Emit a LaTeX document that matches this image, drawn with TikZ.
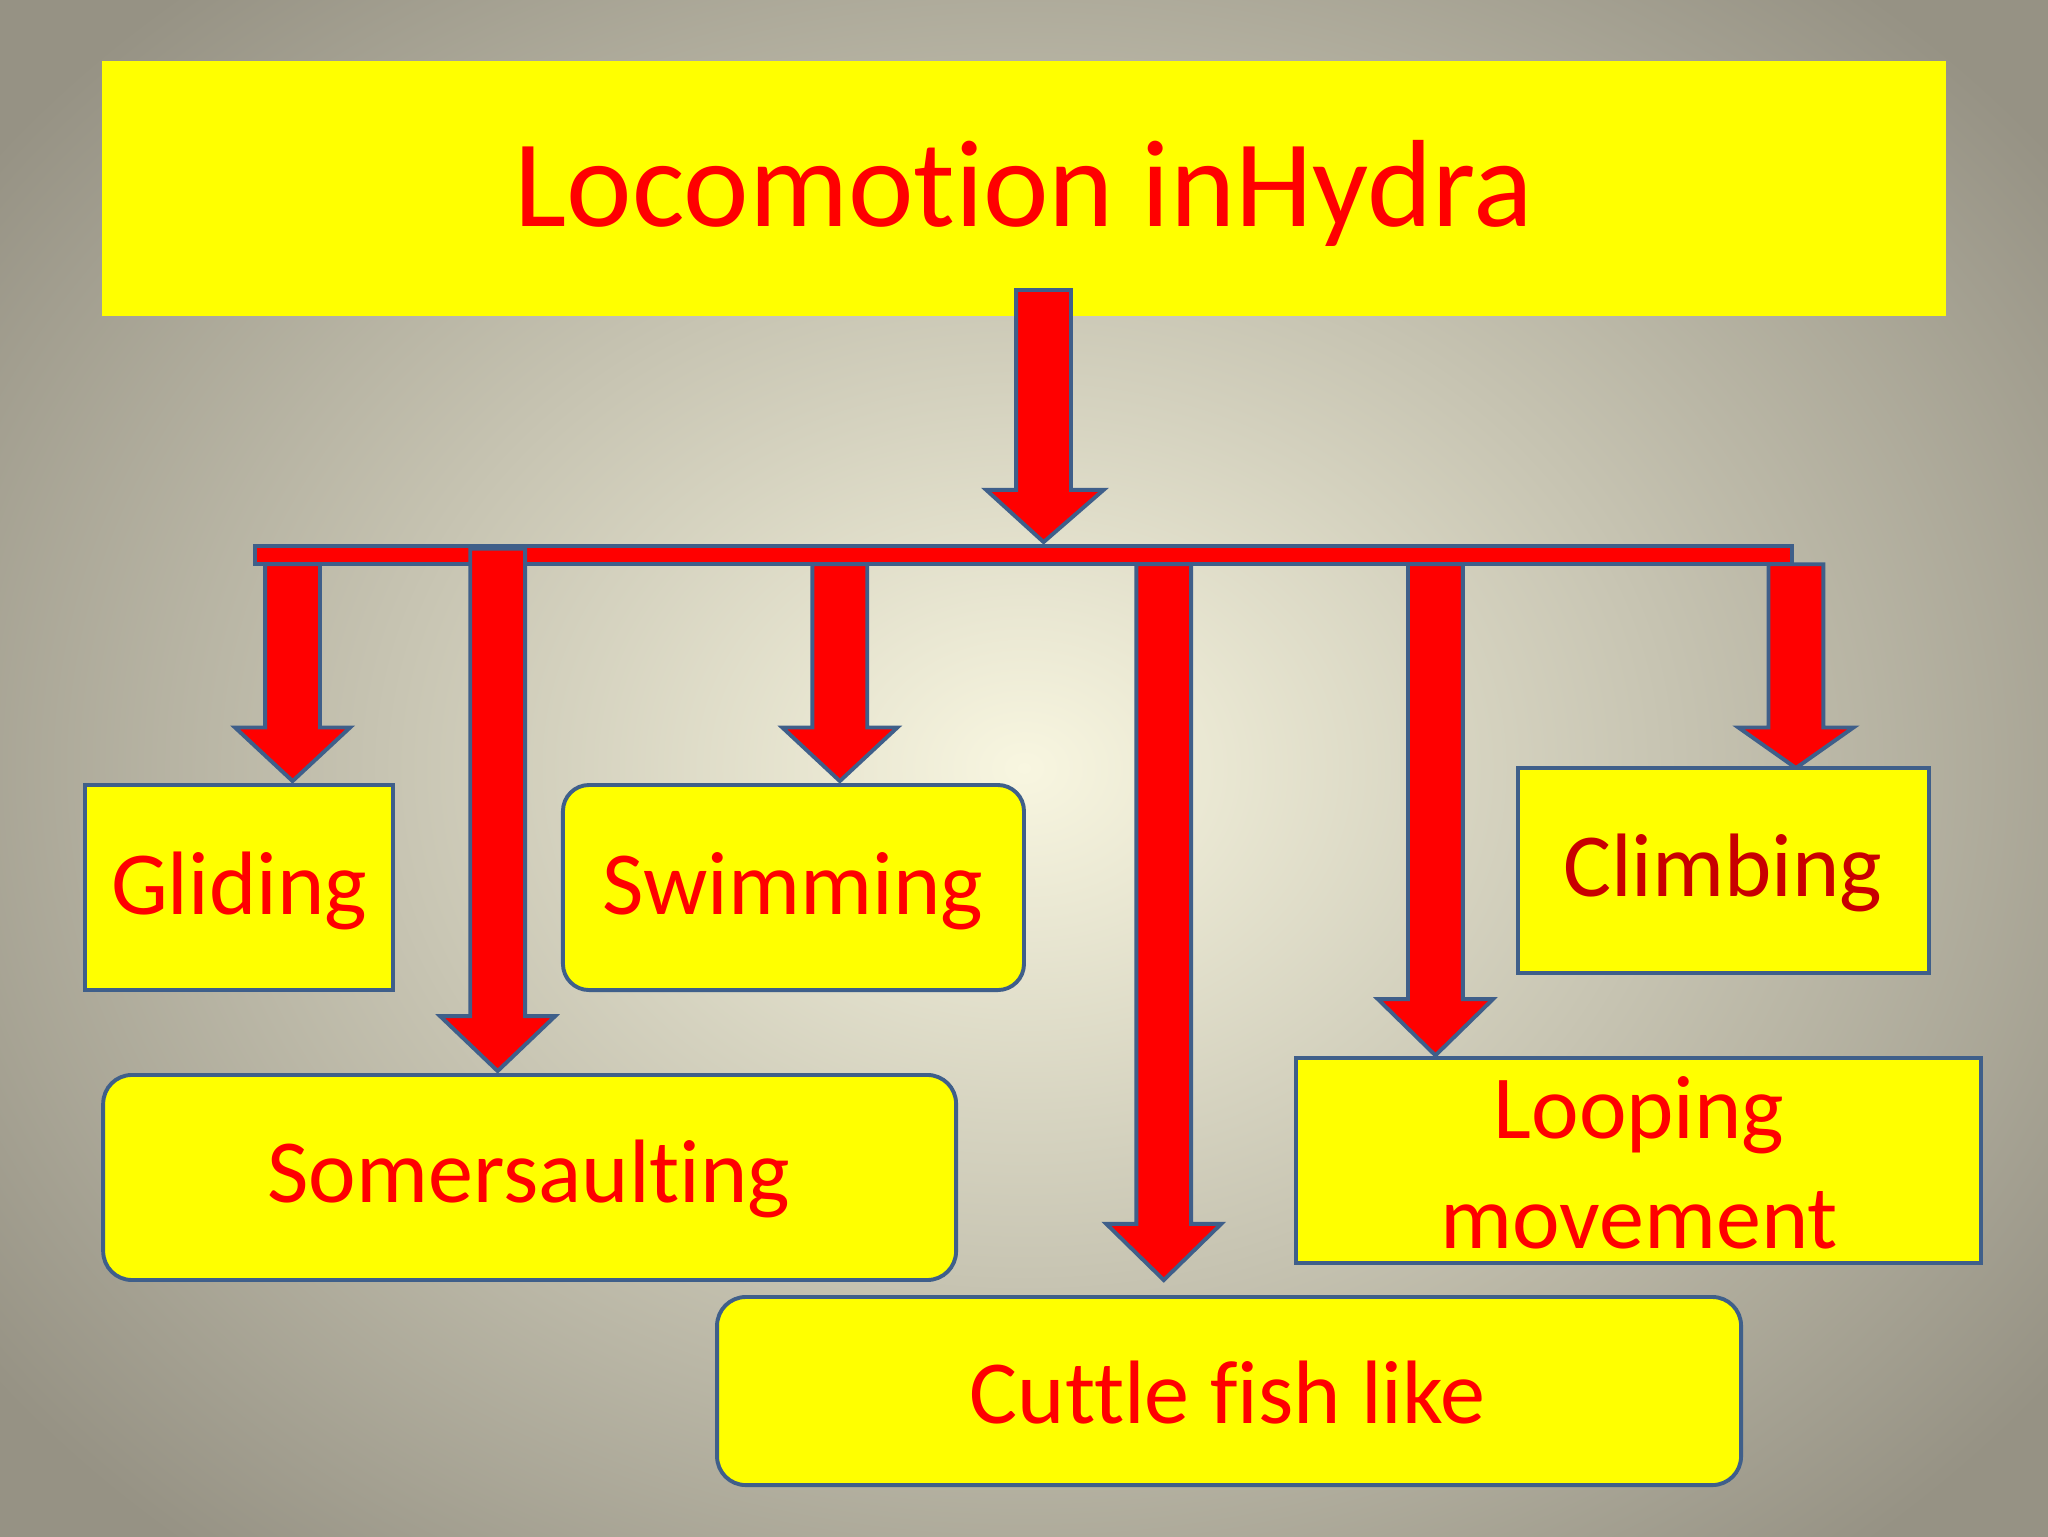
\documentclass[tikz,border=0pt]{standalone}
\usepackage{fontspec}
\setmainfont{Carlito}[RawFeature=-liga]
\definecolor{edge}{HTML}{3F5F8A}
\definecolor{bgin}{RGB}{248,246,224}
\definecolor{bgout}{RGB}{150,146,132}
\definecolor{txt}{HTML}{FF0000}
\definecolor{yel}{HTML}{FFFF00}
\begin{document}
\begin{tikzpicture}[x=1pt,y=-1pt,
  box/.style={draw=edge,line width=3pt,fill=yel},
  arr/.style={draw=edge,line width=3pt,fill=red,line join=miter},
  lab/.style={text=txt,font=\fontsize{69}{72}\selectfont,align=center}]
\useasboundingbox (0,0) rectangle (1568,1176);
\begin{scope}
\clip (0,0) rectangle (1568,1176);
\shade[inner color=bgin,outer color=bgout] (-200,-200) rectangle (1768,1376);
\end{scope}
\fill[yel] (78,47) rectangle (1490,242);
\node[text=txt,font=\fontsize{95}{98}\selectfont] (title) at (784,148) {Locomotion inHydra};
% main arrow
\draw[arr] (778,222) -- (820,222) -- (820,375) -- (845,375) -- (799,415) -- (755,375) -- (778,375) -- cycle;
% bar
\draw[arr] (195,418) rectangle (1372,432);
% down arrows
\foreach \x/\t/\h/\tip in {224/432/557/598, 381/420/778/820, 643/432/557/598, 891/432/937/980, 1099/432/765/808, 1375/432/557/588}{
  \draw[arr] (\x-21,\t) -- (\x+21,\t) -- (\x+21,\h) -- (\x+44,\h) -- (\x,\tip) -- (\x-44,\h) -- (\x-21,\h) -- cycle;
}
\draw[box] (65,601) rectangle (301,758);
\node[lab] (gl) at (183,682) {Gliding};
\draw[box,rounded corners=20pt] (431,601) rectangle (784,758);
\node[lab] (sw) at (607,682) {Swimming};
\draw[box] (1162,588) rectangle (1477,745);
\node[lab,text={rgb,255:red,200;green,0;blue,0}] (cl) at (1319,668) {Climbing};
\draw[box,rounded corners=22pt] (79,823) rectangle (732,980);
\node[lab] (so) at (405,903) {Somersaulting};
\draw[box] (992,810) rectangle (1517,967);
\node[lab,font=\fontsize{69}{84}\selectfont] (lo) at (1255,890) {Looping\\movement};
\draw[box,rounded corners=22pt] (549,993) rectangle (1333,1137);
\node[lab] (cu) at (940,1066) {Cuttle fish like};
\end{tikzpicture}
\end{document}
